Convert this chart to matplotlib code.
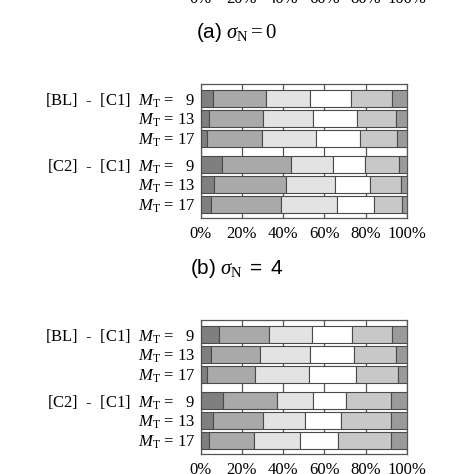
import matplotlib
matplotlib.use('Agg')
import matplotlib.pyplot as plt
import numpy as np

plt.rcParams['font.family'] = ['Liberation Serif', 'DejaVu Serif']
plt.rcParams['mathtext.fontset'] = 'custom'
plt.rcParams['mathtext.rm'] = 'Liberation Serif'
plt.rcParams['mathtext.it'] = 'Liberation Serif:italic'
plt.rcParams['mathtext.sf'] = 'Liberation Sans'

# row labels (top to bottom)
row_labels = [
    r'[BL]  -  [C1]  $M_{\mathrm{T}}$ =   9',
    r'$M_{\mathrm{T}}$ = 13',
    r'$M_{\mathrm{T}}$ = 17',
    r'[C2]  -  [C1]  $M_{\mathrm{T}}$ =   9',
    r'$M_{\mathrm{T}}$ = 13',
    r'$M_{\mathrm{T}}$ = 17',
]
x_ticks = [0, 20, 40, 60, 80, 100]
x_ticklabels = ['0%', '20%', '40%', '60%', '80%', '100%']

# segment shares (%) per row, 6 categories
shares_a = [
    [6.1, 25.6, 21.4, 19.9, 20.0, 7.0],
    [3.9, 26.5, 24.3, 21.4, 18.7, 5.2],
    [2.9, 27.0, 25.9, 21.7, 18.0, 4.5],
    [10.2, 33.7, 20.5, 15.5, 16.4, 3.7],
    [6.6, 34.7, 23.9, 17.0, 15.0, 2.8],
    [5.0, 34.2, 27.0, 18.1, 13.3, 2.4],
]
shares_b = [
    [8.9, 24.4, 20.6, 19.4, 19.7, 7.0],
    [4.9, 23.9, 24.3, 21.5, 20.2, 5.2],
    [2.9, 23.6, 25.9, 22.8, 20.4, 4.4],
    [10.7, 26.2, 17.5, 16.0, 22.2, 7.4],
    [6.1, 24.3, 20.1, 17.5, 24.6, 7.4],
    [3.9, 22.0, 22.2, 18.4, 25.7, 7.8],
]
seg_colors = ['#7f7f7f', '#a9a9a9', '#e3e3e3', '#ffffff', '#c8c8c8', '#9a9a9a']

y_pos = [0, 1, 2, 3.3, 4.3, 5.3]


def draw_panel(ax, shares):
    data = np.array(shares)
    left = np.zeros(len(data))
    for j in range(data.shape[1]):
        ax.barh(y_pos, data[:, j], left=left, height=0.85, color=seg_colors[j],
                edgecolor='#4a4a4a', linewidth=0.8, zorder=3)
        left += data[:, j]
    ax.set_xlim(0, 100)
    ax.set_ylim(5.975, -0.725)
    ax.set_xticks(x_ticks)
    ax.set_xticklabels(x_ticklabels, fontsize=12)
    ax.set_yticks(y_pos)
    ax.set_yticklabels(row_labels, fontsize=12)
    ax.tick_params(axis='y', length=0, pad=4)
    ax.tick_params(axis='x', length=0, pad=6)
    ax.grid(axis='x', color='#555555', linewidth=0.9, zorder=0)
    for s in ax.spines.values():
        s.set_color('#555555')
        s.set_linewidth(0.9)


fig = plt.figure(figsize=(4.74, 4.74), dpi=100)
W = 474.0
axw = 206 / W
axh = 134 / W
axl = 200.7 / W

# previous panel, only its tick labels peek in at the top
ax0 = fig.add_axes([axl, 1 + 17 / W, axw, axh])
ax0.set_xlim(0, 100)
ax0.set_xticks(x_ticks)
ax0.set_xticklabels(x_ticklabels, fontsize=12)
ax0.set_yticks([])
ax0.tick_params(length=0, pad=6)
for s in ax0.spines.values():
    s.set_visible(False)

ax1 = fig.add_axes([axl, 1 - 218 / W, axw, axh])
draw_panel(ax1, shares_a)
ax2 = fig.add_axes([axl, 1 - 454 / W, axw, axh])
draw_panel(ax2, shares_b)

fig.text(237 / W, 1 - 33 / W, r'$\mathsf{(a)}\ \sigma_{\mathrm{N}} = 0$',
         ha='center', va='center', fontsize=15)
fig.text(237 / W, 1 - 268 / W, r'$\mathsf{(b)}\ \sigma_{\mathrm{N}}\ \mathsf{=\ 4}$',
         ha='center', va='center', fontsize=15)

fig.savefig('out.png', dpi=100)
